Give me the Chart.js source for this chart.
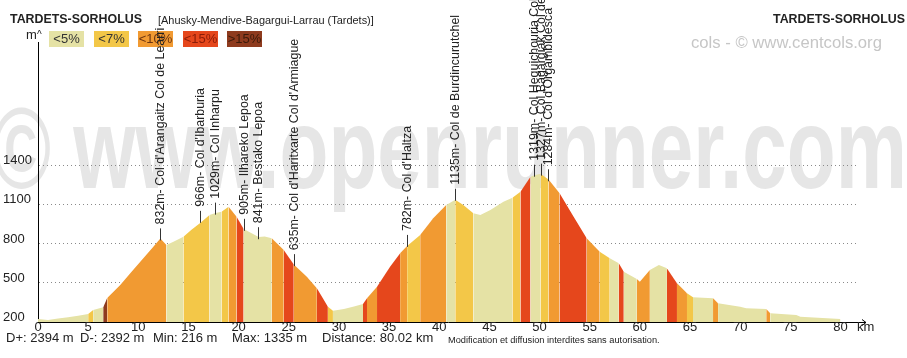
<!DOCTYPE html>
<html lang="fr">
<head>
<meta charset="UTF-8">
<title>Profil - Tardets-Sorholus</title>
<style>
  html, body { margin: 0; padding: 0; background: #fff; }
  canvas { display: block; }
</style>
<script src="https://cdn.jsdelivr.net/npm/chart.js"></script>
</head>
<body>
<canvas id="profil" width="907" height="358"></canvas>
<script>
// profil (km / altitude m)
const distances = [0, 1, 2, 3, 4, 5, 5.5, 6.5, 6.9, 8.2, 9.2, 10.5, 11.5, 12.2, 12.8, 13.5, 14.5, 15.3, 16.2, 17.1,
  17.7, 18.3, 19.0, 19.8, 20.5, 21.3, 22.0, 22.6, 23.3, 24.5, 25.5, 26.8, 27.8, 28.4, 28.9, 29.4, 30.5, 31.5, 32.4, 32.8,
  33.8, 35.1, 36.1, 36.8, 38.1, 39.4, 40.7, 41.6, 42.4, 43.4, 44.1, 45.1, 46.4, 47.3, 48.1, 49.1, 49.5, 50.1, 50.9, 52.0,
  53.4, 54.7, 56.0, 57.0, 57.9, 58.4, 59.7, 60.0, 61.0, 61.9, 62.7, 63.7, 64.7, 65.3, 67.3, 67.8, 70.0, 70.6, 72.6, 73.0,
  75.6, 76.0, 80.0];
const altitudes = [222, 216, 226, 236, 248, 262, 292, 312, 384, 483, 573, 687, 776, 838, 789, 814, 853, 905, 960, 1019,
  1034, 1043, 1082, 1006, 912, 879, 850, 855, 840, 751, 640, 547, 458, 381, 317, 286, 300, 318, 338, 381,
  470, 623, 726, 782, 866, 993, 1095, 1135, 1095, 1032, 1019, 1057, 1120, 1150, 1197, 1312, 1322, 1335, 1290, 1185,
  1006, 840, 738, 687, 649, 585, 529, 508, 598, 636, 611, 496, 420, 389, 381, 343, 317, 305, 300, 267,
  254, 241, 222];

const kmTicks = [0, 5, 10, 15, 20, 25, 30, 35, 40, 45, 50, 55, 60, 65, 70, 75, 80];
const altTicks = [200, 500, 800, 1100, 1400];

// cols
const colKm = [12.2, 16.15, 17.65, 20.5, 21.9, 25.5, 36.8, 41.6, 49.45, 50.15, 50.85];
const colAlt = [832, 966, 1029, 905, 841, 635, 782, 1135, 1319, 1327, 1284];
const colNoms = [
  "832m- Col d'Arangaitz Col de Learri",
  "966m- Col d'Ibarburia",
  "1029m- Col Inharpu",
  "905m- Ilhareko Lepoa",
  "841m- Bestako Lepoa",
  "635m- Col d'Haritxarte Col d'Armiague",
  "782m- Col d'Haltza",
  "1135m- Col de Burdincurutchel",
  "1319m- Col Heguichouria Col d'Ahusquy",
  "1327m- Col Bagargiak Col de Bagargui",
  "1284m- Col d'Orgambidesca"
];

// pentes
const penteNoms = ['<5%', '<7%', '<10%', '<15%', '>15%'];
const penteSeuils = [5, 7, 10, 15];
const penteCouleurs = ['#e5e2a5', '#f3c748', '#f19a32', '#e5471c', '#8e3b1e'];
const penteTexte = ['#333', '#333', '#6b3410', '#8a1c08', '#3a1a0a'];

const stats = ['D+: 2394 m', 'D-: 2392 m', 'Min: 216 m', 'Max: 1335 m', 'Distance: 80.02 km'];
const statsX = [6, 80, 153, 232, 322];

const POLICE = "Arial, 'Liberation Sans', sans-serif";

function couleurPente(p0, p1) {
  const dx = (p1.x - p0.x) * 1000;
  const pente = dx > 0 ? Math.abs(p1.y - p0.y) / dx * 100 : 0;
  let i = penteSeuils.findIndex(s => pente < s);
  if (i < 0) i = penteSeuils.length;
  return penteCouleurs[i];
}

// texte ajusté à une largeur donnée
function texteLargeur(ctx, txt, x, y, largeur, graisse, taille) {
  ctx.font = graisse + ' ' + taille + 'px ' + POLICE;
  const w = ctx.measureText(txt).width;
  const t = taille * largeur / w;
  ctx.font = graisse + ' ' + t.toFixed(2) + 'px ' + POLICE;
  ctx.fillText(txt, x, y);
}

const filigrane = {
  id: 'filigrane',
  beforeDraw(chart) {
    const ctx = chart.ctx;
    ctx.save();
    ctx.font = 'bold 115px ' + POLICE;
    const txt = '\u00a9 www.openrunner.com';
    const w = ctx.measureText(txt).width;
    ctx.translate(-8, 188);
    ctx.scale(915 / w, 1);
    ctx.fillStyle = '#e6e6e6';
    ctx.textBaseline = 'alphabetic';
    ctx.fillText(txt, 0, 0);
    ctx.restore();
  }
};

const decor = {
  id: 'decor',
  afterDraw(chart) {
    const ctx = chart.ctx;
    const sx = chart.scales.x, sy = chart.scales.y;
    ctx.save();
    ctx.textBaseline = 'middle';

    // titres
    ctx.fillStyle = '#222';
    texteLargeur(ctx, 'TARDETS-SORHOLUS', 10, 20, 132, 'bold', 13);
    texteLargeur(ctx, 'TARDETS-SORHOLUS', 773, 20, 132, 'bold', 13);
    texteLargeur(ctx, '[Ahusky-Mendive-Bagargui-Larrau (Tardets)]', 158, 21, 216, 'normal', 11);
    ctx.fillStyle = '#c6c6c6';
    texteLargeur(ctx, 'cols - \u00a9 www.centcols.org', 691, 43, 191, 'normal', 16);

    // légende des pentes
    const legX = [49, 94, 138, 183, 227];
    penteNoms.forEach((n, i) => {
      ctx.fillStyle = penteCouleurs[i];
      ctx.fillRect(legX[i], 31, 35, 16);
      ctx.fillStyle = penteTexte[i];
      ctx.font = '13px ' + POLICE;
      ctx.textAlign = 'center';
      ctx.fillText(n, legX[i] + 17.5, 39.5);
    });
    ctx.textAlign = 'left';

    // unité axe y
    ctx.fillStyle = '#222';
    ctx.font = '13px ' + POLICE;
    ctx.fillText('m', 26, 35);
    ctx.font = '10px ' + POLICE;
    ctx.fillText('^', 37, 35);

    // flèche axe x + km
    const yb = sx.top + 0.5;
    ctx.strokeStyle = '#000';
    ctx.lineWidth = 1;
    ctx.beginPath();
    ctx.moveTo(sx.right, yb);
    ctx.lineTo(866, yb);
    ctx.moveTo(862, yb - 3);
    ctx.lineTo(866, yb);
    ctx.lineTo(862, yb + 3);
    ctx.stroke();
    ctx.fillStyle = '#222';
    ctx.font = '13px ' + POLICE;
    ctx.fillText('km', 857, 327);

    // cols
    ctx.strokeStyle = '#333';
    colKm.forEach((k, i) => {
      const x = Math.round(sx.getPixelForValue(k)) + 0.5;
      const y = sy.getPixelForValue(colAlt[i]);
      ctx.beginPath();
      ctx.moveTo(x, y + 1);
      ctx.lineTo(x, y - 11);
      ctx.stroke();
      ctx.save();
      ctx.translate(x, y - 15);
      ctx.rotate(-Math.PI / 2);
      ctx.fillStyle = '#222';
      ctx.font = '12.4px ' + POLICE;
      ctx.textAlign = 'left';
      ctx.fillText(colNoms[i], 0, 0);
      ctx.restore();
    });

    // statistiques
    ctx.fillStyle = '#222';
    ctx.font = '13px ' + POLICE;
    stats.forEach((s, i) => ctx.fillText(s, statsX[i], 338.5));
    texteLargeur(ctx, 'Modification et diffusion interdites sans autorisation.', 448, 340, 212, 'normal', 9);
    ctx.restore();
  }
};

const points = distances.map((d, i) => ({ x: d, y: altitudes[i] }));

new Chart(document.getElementById('profil'), {
  type: 'line',
  data: {
    datasets: [{
      data: points,
      fill: 'start',
      backgroundColor: penteCouleurs[0],
      borderColor: 'rgba(0,0,0,0)',
      borderWidth: 1,
      pointRadius: 0,
      tension: 0,
      segment: {
        backgroundColor: c => couleurPente(c.p0.parsed, c.p1.parsed)
      }
    }]
  },
  options: {
    responsive: false,
    animation: false,
    devicePixelRatio: 1,
    layout: { padding: { left: 3, top: 42, right: 49, bottom: 0 } },
    plugins: { legend: { display: false }, tooltip: { enabled: false } },
    scales: {
      x: {
        type: 'linear',
        min: 0,
        max: 81.75,
        afterBuildTicks: s => { s.ticks = kmTicks.map(v => ({ value: v })); },
        afterFit: s => { s.height = 36; },
        grid: { display: false, drawTicks: false },
        border: { display: true, color: '#000', width: 1 },
        ticks: {
          color: '#222',
          font: { family: POLICE, size: 13 },
          padding: -2,
          maxRotation: 0,
          autoSkip: false,
          callback: v => String(v)
        }
      },
      y: {
        type: 'linear',
        min: 200,
        max: 2342,
        afterBuildTicks: s => { s.ticks = altTicks.map(v => ({ value: v })); },
        afterFit: s => { s.width = 35; },
        grid: { color: '#8a8a8a', drawTicks: false, lineWidth: 1 },
        border: { display: true, color: '#000', width: 1, dash: [1, 3] },
        ticks: {
          color: '#222',
          font: { family: POLICE, size: 13 },
          crossAlign: 'far',
          labelOffset: -4.5,
          autoSkip: false,
          callback: v => String(v)
        }
      }
    }
  },
  plugins: [filigrane, decor]
});
</script>
</body>
</html>
